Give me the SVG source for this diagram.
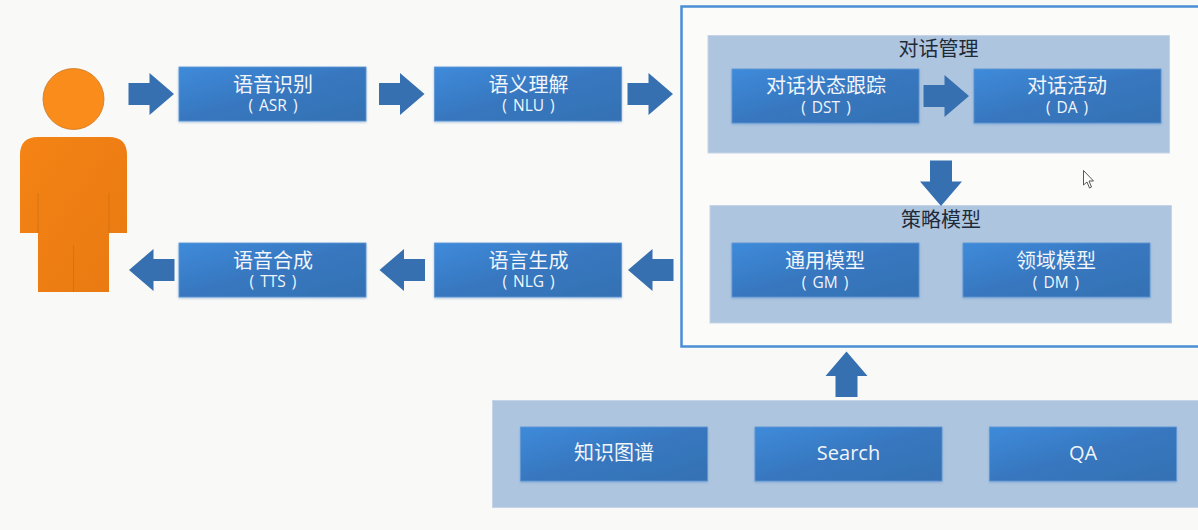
<svg xmlns="http://www.w3.org/2000/svg" width="1198" height="530" viewBox="0 0 1198 530">
<style>
.lbl{font-family:"Noto Sans CJK SC","Open Sans",sans-serif;fill:#f1f5fa;text-anchor:middle}
.cn{font-size:20px}
.en{font-family:"Open Sans","Noto Sans CJK SC",sans-serif;font-size:15.5px;word-spacing:2px}
.big{font-family:"Open Sans","Noto Sans CJK SC",sans-serif;font-size:20px}
.ttl{font-family:"Noto Sans CJK SC",sans-serif;font-size:20px;fill:#1f2a38;text-anchor:middle}
.box{fill:url(#bx);stroke:#5f97d4;stroke-width:.8;filter:url(#sh)}
.arr{fill:#3670b1}
.panel{fill:#aec5df;stroke:#c5d4e6;stroke-width:1}
</style>
<defs>
<linearGradient id="bx" x1="0" y1="0" x2="1" y2="1"><stop offset="0" stop-color="#3e8bdb"/><stop offset=".5" stop-color="#3777bf"/><stop offset="1" stop-color="#3571b3"/></linearGradient>
<linearGradient id="bd" x1="0" y1="0" x2="1" y2="1"><stop offset="0" stop-color="#f58315"/><stop offset="1" stop-color="#e87a12"/></linearGradient>
<filter id="sh" x="-5%" y="-10%" width="110%" height="125%"><feDropShadow dx="0" dy="1" stdDeviation="1" flood-color="#4f86c4" flood-opacity=".5"/></filter>
<path id="ar" class="arr" d="M0,-11H21V-21L45.500,0L21,21V11H0Z"/>
</defs>
<rect width="1198" height="530" fill="#f9f9f8"/>
<g id="person">
<circle cx="73.500" cy="99" r="30.500" fill="#f98c1a" stroke="#c97a28" stroke-width=".8"/>
<path d="M38,137H109Q127,137 127,155V233H109V292H38V233H20V155Q20,137 38,137Z" fill="url(#bd)"/>
<path d="M38,193V233M109,193V233M73.500,245V292" fill="none" stroke="#d36e10" stroke-width=".8"/>
</g>
<g id="frame"><rect x="681.500" y="6.500" width="530" height="340" fill="#fbfbfa" stroke="#4a8ed4" stroke-width="2.500"/></g>
<g id="panel-dm"><rect class="panel" x="708" y="35.500" width="461.500" height="117.500"/><text class="ttl" x="938.500" y="56">对话管理</text></g>
<g id="panel-policy"><rect class="panel" x="710" y="205.500" width="461.500" height="117.500"/><text class="ttl" x="941" y="226.500">策略模型</text></g>
<g id="panel-kb"><rect class="panel" x="492.500" y="400.500" width="710" height="107"/></g>
<g id="connectors">
<use href="#ar" transform="translate(128.500,94)"/>
<use href="#ar" transform="translate(379,94)"/>
<use href="#ar" transform="translate(627.500,94)"/>
<use href="#ar" transform="translate(923.500,96)"/>
<use href="#ar" transform="translate(941,160.500) rotate(90)"/>
<use href="#ar" transform="translate(174.500,270) rotate(180)"/>
<use href="#ar" transform="translate(425,270) rotate(180)"/>
<use href="#ar" transform="translate(673.500,270) rotate(180)"/>
<use href="#ar" transform="translate(846.500,397) rotate(-90)"/>
</g>
<g id="asr"><rect class="box" x="179" y="67" width="187" height="54"/><text class="lbl cn" x="273" y="92">语音识别</text><text class="lbl en" x="273" y="110.500">( ASR )</text></g>
<g id="nlu"><rect class="box" x="434.500" y="67" width="187" height="54"/><text class="lbl cn" x="528.500" y="92">语义理解</text><text class="lbl en" x="528.500" y="110.500">( NLU )</text></g>
<g id="tts"><rect class="box" x="179" y="243" width="187" height="54"/><text class="lbl cn" x="273" y="268">语音合成</text><text class="lbl en" x="273" y="286.500">( TTS )</text></g>
<g id="nlg"><rect class="box" x="434.500" y="243" width="187" height="54"/><text class="lbl cn" x="528.500" y="268">语言生成</text><text class="lbl en" x="528.500" y="286.500">( NLG )</text></g>
<g id="dst"><rect class="box" x="732" y="69" width="187" height="54"/><text class="lbl cn" x="826" y="93">对话状态跟踪</text><text class="lbl en" x="826" y="112.500">( DST )</text></g>
<g id="da"><rect class="box" x="974" y="69" width="187" height="54"/><text class="lbl cn" x="1067" y="93">对话活动</text><text class="lbl en" x="1067" y="112.500">( DA )</text></g>
<g id="gm"><rect class="box" x="732" y="243" width="187" height="54"/><text class="lbl cn" x="825" y="267.500">通用模型</text><text class="lbl en" x="825" y="287.500">( GM )</text></g>
<g id="dm"><rect class="box" x="963" y="243" width="187" height="54"/><text class="lbl cn" x="1056" y="267.500">领域模型</text><text class="lbl en" x="1056" y="287.500">( DM )</text></g>
<g id="kg"><rect class="box" x="520.500" y="427" width="187" height="54"/><text class="lbl cn" x="614" y="460">知识图谱</text></g>
<g id="search"><rect class="box" x="755" y="427" width="187" height="54"/><text class="lbl big" x="848.500" y="460">Search</text></g>
<g id="qa"><rect class="box" x="989.500" y="427" width="187" height="54"/><text class="lbl big" x="1083" y="460">QA</text></g>
<g id="cursor"><path d="M1083.500,170.500V185L1087,182L1089.500,188L1091.500,187L1089,181L1093.500,181Z" fill="#fff" stroke="#444" stroke-width=".9"/></g>
</svg>
